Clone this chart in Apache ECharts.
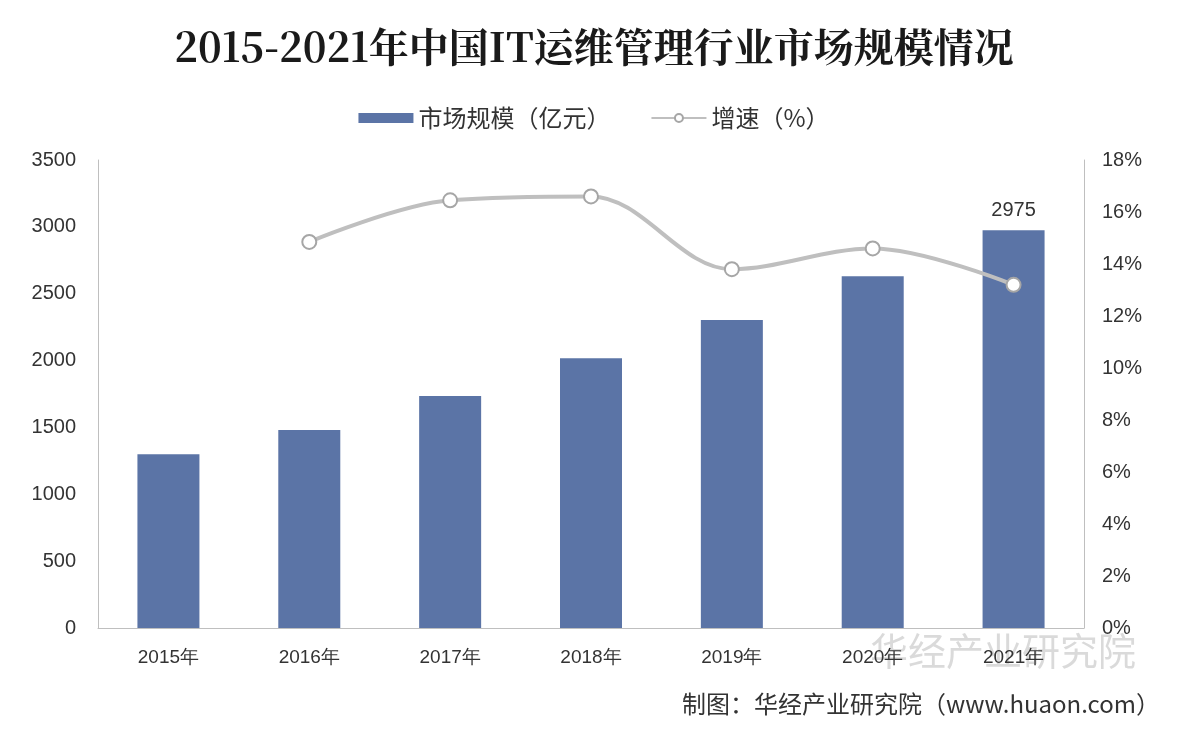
<!DOCTYPE html>
<html><head><meta charset="utf-8">
<script src="https://cdn.jsdelivr.net/npm/echarts@6/dist/echarts.min.js"></script>
<style>html,body{margin:0;padding:0;background:#fff}#c{width:1188px;height:746px}</style>
</head><body><div id="c"></div>
<script>
const categories = ['2015年','2016年','2017年','2018年','2019年','2020年','2021年'];
const marketSize = [1300, 1480, 1735, 2018, 2303, 2630, 2975];
const growthRate = [null, 14.85, 16.45, 16.6, 13.8, 14.6, 13.2];
const leftTicks = [0, 3500, 500];
const rightTicks = [0, 18, 2];

const chart = echarts.init(document.getElementById('c'));
chart.setOption({
  backgroundColor: '#fff',
  animation: false,
  title: {
    text: '2015-2021年中国IT运维管理行业市场规模情况',
    left: 'center', top: 22,
    textStyle: {fontFamily: 'Noto Serif CJK SC, Noto Sans CJK SC, serif', fontSize: 40, fontWeight: 'bold', color: '#1a1a1a'}
  },
  legend: {
    top: 101, left: 'center', itemGap: 40,
    textStyle: {fontSize: 24, color: '#333', fontFamily: 'Noto Sans CJK SC'},
    data: [
      {name: '市场规模（亿元）', icon: 'rect', itemStyle: {color: '#5b74a6'}},
      {name: '增速（%）'}
    ],
    itemWidth: 55, itemHeight: 10
  },
  grid: {left: 98, right: 104, top: 160, bottom: 118},
  xAxis: {
    type: 'category', data: categories,
    axisLine: {lineStyle: {color: '#bfbfbf'}},
    axisTick: {show: false},
    axisLabel: {fontSize: 19, color: '#333', margin: 20}
  },
  yAxis: [
    {type: 'value', min: leftTicks[0], max: leftTicks[1], interval: leftTicks[2],
     axisLine: {show: true, lineStyle: {color: '#bfbfbf'}}, splitLine: {show: false},
     axisLabel: {fontSize: 20, color: '#333', margin: 22, formatter: v => String(v)}},
    {type: 'value', min: rightTicks[0], max: rightTicks[1], interval: rightTicks[2],
     axisLine: {show: true, lineStyle: {color: '#bfbfbf'}}, splitLine: {show: false},
     axisLabel: {fontSize: 20, color: '#333', formatter: '{value}%', margin: 18}}
  ],
  series: [
    {name: '市场规模（亿元）', type: 'bar', data: marketSize, barWidth: 62,
     itemStyle: {color: '#5b74a6'},
     label: {show: true, position: 'top', fontSize: 20, color: '#333', distance: 10,
       formatter: p => p.dataIndex === marketSize.length - 1 ? String(p.value) : ''}},
    {name: '增速（%）', type: 'line', yAxisIndex: 1, data: growthRate, smooth: 0.35,
     symbol: 'circle', symbolSize: 14,
     lineStyle: {color: '#bfbfbf', width: 4},
     itemStyle: {color: '#fff', borderColor: '#a6a6a6', borderWidth: 2}}
  ],
  graphic: [
    {type: 'text', right: 28, top: 692,
     style: {text: '制图：华经产业研究院（www.huaon.com）', fontSize: 24, fill: '#333', fontFamily: 'Noto Sans CJK SC'}},
    {type: 'text', left: 870, top: 632,
     style: {text: '华经产业研究院', fontSize: 38, fill: 'rgba(150,150,150,0.35)', fontFamily: 'Noto Sans CJK SC'}}
  ]
});
</script></body></html>
